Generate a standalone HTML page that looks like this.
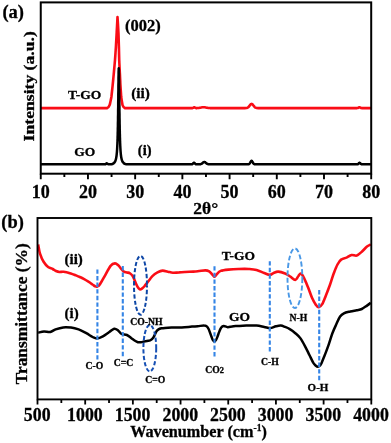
<!DOCTYPE html>
<html><head><meta charset="utf-8"><title>XRD and FTIR</title>
<style>
html,body{margin:0;padding:0;background:#fff;}
svg{display:block;}
text{font-family:"Liberation Serif","Times New Roman",serif;font-weight:bold;fill:#000;stroke:#000;stroke-width:0.3px;}
</style></head><body>
<svg width="391" height="443" viewBox="0 0 391 443">
<defs><filter id="soft" x="0" y="0" width="391" height="443" filterUnits="userSpaceOnUse"><feGaussianBlur stdDeviation="0.45"/></filter></defs>
<rect x="0" y="0" width="391" height="443" fill="#fff"/>
<g filter="url(#soft)">

<g id="panel-a">
<path d="M40.8,108.1 L41.2,108.1 L41.8,108.1 L42.2,108.1 L42.8,108.1 L43.2,108.1 L43.8,108.1 L44.2,108.1 L44.8,108.1 L45.2,108.1 L45.8,108.1 L46.2,108.1 L46.8,108.1 L47.2,108.1 L47.8,108.1 L48.2,108.1 L48.8,108.1 L49.2,108.1 L49.8,108.1 L50.2,108.1 L50.8,108.1 L51.2,108.1 L51.8,108.1 L52.2,108.1 L52.8,108.1 L53.2,108.1 L53.8,108.1 L54.2,108.1 L54.8,108.1 L55.2,108.1 L55.8,108.1 L56.2,108.1 L56.8,108.1 L57.2,108.1 L57.8,108.1 L58.2,108.1 L58.8,108.1 L59.2,108.1 L59.8,108.1 L60.2,108.1 L60.8,108.1 L61.2,108.1 L61.8,108.1 L62.2,108.1 L62.8,108.1 L63.2,108.1 L63.8,108.1 L64.2,108.1 L64.8,108.1 L65.2,108.1 L65.8,108.1 L66.2,108.1 L66.8,108.1 L67.2,108.1 L67.8,108.1 L68.2,108.1 L68.8,108.1 L69.2,108.1 L69.8,108.1 L70.2,108.1 L70.8,108.1 L71.2,108.1 L71.8,108.1 L72.2,108.1 L72.8,108.1 L73.2,108.1 L73.8,108.1 L74.2,108.1 L74.8,108.1 L75.2,108.1 L75.8,108.1 L76.2,108.1 L76.8,108.1 L77.2,108.1 L77.8,108.1 L78.2,108.1 L78.8,108.1 L79.2,108.1 L79.8,108.1 L80.2,108.1 L80.8,108.1 L81.2,108.1 L81.8,108.1 L82.2,108.1 L82.8,108.1 L83.2,108.1 L83.8,108.1 L84.2,108.1 L84.8,108.1 L85.2,108.1 L85.8,108.1 L86.2,108.1 L86.8,108.1 L87.2,108.1 L87.8,108.1 L88.2,108.1 L88.8,108.1 L89.2,108.1 L89.8,108.1 L90.2,108.1 L90.8,108.1 L91.2,108.1 L91.8,108.1 L92.2,108.1 L92.8,108.1 L93.2,108.1 L93.8,108.1 L94.2,108.1 L94.8,108.1 L95.2,108.1 L95.8,108.1 L96.2,108.1 L96.8,108.1 L97.2,108.1 L97.8,108.1 L98.2,108.1 L98.8,108.1 L99.2,108.1 L99.8,108.1 L100.2,108.1 L100.8,108.1 L101.2,108.1 L101.8,108.1 L102.2,108.1 L102.8,108.1 L103.2,108.1 L103.8,108.1 L104.2,108.1 L104.8,108.1 L105.2,108.1 L105.8,108.1 L106.2,108.1 L107.0,108.1 L108.6,107.0 L109.8,104.6 L110.6,101.0 L111.4,97.0 L112.7,84.8 L113.9,72.4 L115.0,60.0 L115.9,47.0 L116.6,34.0 L117.1,25.0 L117.5,17.0 L118.0,25.0 L118.5,34.0 L118.9,47.0 L119.2,60.0 L119.8,72.4 L120.4,84.8 L121.2,97.0 L121.9,101.5 L122.5,105.0 L123.5,107.0 L125.0,108.1 L125.5,108.1 L126.0,108.1 L126.5,108.1 L127.0,108.1 L127.5,108.1 L128.0,108.1 L128.5,108.1 L129.0,108.1 L129.5,108.1 L130.0,108.1 L130.5,108.1 L131.0,108.1 L131.5,108.1 L132.0,108.1 L132.5,108.1 L133.0,108.1 L133.5,108.1 L134.0,108.1 L134.5,108.1 L135.0,108.1 L135.5,108.1 L136.0,108.1 L136.5,108.1 L137.0,108.1 L137.5,108.1 L138.0,108.1 L138.5,108.1 L139.0,108.1 L139.5,108.1 L140.0,108.1 L140.5,108.1 L141.0,108.1 L141.5,108.1 L142.0,108.1 L142.5,108.1 L143.0,108.1 L143.5,108.1 L144.0,108.1 L144.5,108.1 L145.0,108.1 L145.5,108.1 L146.0,108.1 L146.5,108.1 L147.0,108.1 L147.5,108.1 L148.0,108.1 L148.5,108.1 L149.0,108.1 L149.5,108.1 L150.0,108.1 L150.5,108.1 L151.0,108.1 L151.5,108.1 L152.0,108.1 L152.5,108.1 L153.0,108.1 L153.5,108.1 L154.0,108.1 L154.5,108.1 L155.0,108.1 L155.5,108.1 L156.0,108.1 L156.5,108.1 L157.0,108.1 L157.5,108.1 L158.0,108.1 L158.5,108.1 L159.0,108.1 L159.5,108.1 L160.0,108.1 L160.5,108.1 L161.0,108.1 L161.5,108.1 L162.0,108.1 L162.5,108.1 L163.0,108.1 L163.5,108.1 L164.0,108.1 L164.5,108.1 L165.0,108.1 L165.5,108.1 L166.0,108.1 L166.5,108.1 L167.0,108.1 L167.5,108.1 L168.0,108.1 L168.5,108.1 L169.0,108.1 L169.5,108.1 L170.0,108.1 L170.5,108.1 L171.0,108.1 L171.5,108.1 L172.0,108.1 L172.5,108.1 L173.0,108.1 L173.5,108.1 L174.0,108.1 L174.5,108.1 L175.0,108.1 L175.5,108.1 L176.0,108.1 L176.5,108.1 L177.0,108.1 L177.5,108.1 L178.0,108.1 L178.5,108.1 L179.0,108.1 L179.5,108.1 L180.0,108.1 L180.5,108.1 L181.0,108.1 L181.5,108.1 L182.0,108.1 L182.5,108.1 L183.0,108.1 L183.5,108.1 L184.0,108.1 L184.5,108.1 L185.0,108.1 L185.5,108.1 L186.0,108.1 L186.5,108.1 L187.0,108.1 L187.5,108.1 L188.0,108.1 L188.5,108.1 L189.0,108.1 L189.5,108.1 L190.0,108.1 L190.5,108.1 L191.0,108.1 L191.5,108.1 L192.0,108.1 L192.5,108.1 L193.0,107.9 L193.5,107.6 L194.0,107.2 L194.5,107.3 L195.0,107.6 L195.5,107.9 L196.0,108.1 L196.5,108.1 L197.0,108.1 L197.5,108.0 L198.0,108.0 L198.5,108.0 L199.0,107.9 L199.5,107.8 L200.0,107.8 L200.5,107.7 L201.0,107.6 L201.5,107.4 L202.0,107.3 L202.5,107.3 L203.0,107.2 L203.5,107.2 L204.0,107.2 L204.5,107.3 L205.0,107.3 L205.5,107.4 L206.0,107.6 L206.5,107.7 L207.0,107.8 L207.5,107.8 L208.0,107.9 L208.5,108.0 L209.0,108.0 L209.5,108.0 L210.0,108.1 L210.5,108.1 L211.0,108.1 L211.5,108.1 L212.0,108.1 L212.5,108.1 L213.0,108.1 L213.5,108.1 L214.0,108.1 L214.5,108.1 L215.0,108.1 L215.5,108.1 L216.0,108.1 L216.5,108.1 L217.0,108.1 L217.5,108.1 L218.0,108.1 L218.5,108.1 L219.0,108.1 L219.5,108.1 L220.0,108.1 L220.5,108.1 L221.0,108.1 L221.5,108.1 L222.0,108.1 L222.5,108.1 L223.0,108.1 L223.5,108.1 L224.0,108.1 L224.5,108.1 L225.0,108.1 L225.5,108.1 L226.0,108.1 L226.5,108.1 L227.0,108.1 L227.5,108.1 L228.0,108.1 L228.5,108.1 L229.0,108.1 L229.5,108.1 L230.0,108.1 L230.5,108.1 L231.0,108.1 L231.5,108.1 L232.0,108.1 L232.5,108.1 L233.0,108.1 L233.5,108.1 L234.0,108.1 L234.5,108.1 L235.0,108.1 L235.5,108.1 L236.0,108.1 L236.5,108.1 L237.0,108.1 L237.5,108.1 L238.0,108.1 L238.5,108.1 L239.0,108.1 L239.5,108.1 L240.0,108.1 L240.5,108.1 L241.0,108.1 L241.5,108.1 L242.0,108.1 L242.5,108.1 L243.0,108.1 L243.5,108.1 L244.0,108.1 L244.5,108.1 L245.0,108.1 L245.5,108.1 L246.0,108.0 L246.5,108.0 L247.0,107.9 L247.5,107.7 L248.0,107.4 L248.5,107.0 L249.0,106.5 L249.5,105.8 L250.0,105.2 L250.5,104.5 L251.0,104.1 L251.5,103.9 L252.0,104.0 L252.5,104.3 L253.0,104.9 L253.5,105.6 L254.0,106.2 L254.5,106.8 L255.0,107.3 L255.5,107.6 L256.0,107.8 L256.5,107.9 L257.0,108.0 L257.5,108.1 L258.0,108.1 L258.5,108.1 L259.0,108.1 L259.5,108.1 L260.0,108.1 L260.5,108.1 L261.0,108.1 L261.5,108.1 L262.0,108.1 L262.5,108.1 L263.0,108.1 L263.5,108.1 L264.0,108.1 L264.5,108.1 L265.0,108.1 L265.5,108.1 L266.0,108.1 L266.5,108.1 L267.0,108.1 L267.5,108.1 L268.0,108.1 L268.5,108.1 L269.0,108.1 L269.5,108.1 L270.0,108.1 L270.5,108.1 L271.0,108.1 L271.5,108.1 L272.0,108.1 L272.5,108.1 L273.0,108.1 L273.5,108.1 L274.0,108.1 L274.5,108.1 L275.0,108.1 L275.5,108.1 L276.0,108.1 L276.5,108.1 L277.0,108.1 L277.5,108.1 L278.0,108.1 L278.5,108.1 L279.0,108.1 L279.5,108.1 L280.0,108.1 L280.5,108.1 L281.0,108.1 L281.5,108.1 L282.0,108.1 L282.5,108.1 L283.0,108.1 L283.5,108.1 L284.0,108.1 L284.5,108.1 L285.0,108.1 L285.5,108.1 L286.0,108.1 L286.5,108.1 L287.0,108.1 L287.5,108.1 L288.0,108.1 L288.5,108.1 L289.0,108.1 L289.5,108.1 L290.0,108.1 L290.5,108.1 L291.0,108.1 L291.5,108.1 L292.0,108.1 L292.5,108.1 L293.0,108.1 L293.5,108.1 L294.0,108.1 L294.5,108.1 L295.0,108.1 L295.5,108.1 L296.0,108.1 L296.5,108.1 L297.0,108.1 L297.5,108.1 L298.0,108.1 L298.5,108.1 L299.0,108.1 L299.5,108.1 L300.0,108.1 L300.5,108.1 L301.0,108.1 L301.5,108.1 L302.0,108.1 L302.5,108.1 L303.0,108.1 L303.5,108.1 L304.0,108.1 L304.5,108.1 L305.0,108.1 L305.5,108.1 L306.0,108.1 L306.5,108.1 L307.0,108.1 L307.5,108.1 L308.0,108.1 L308.5,108.1 L309.0,108.1 L309.5,108.1 L310.0,108.1 L310.5,108.1 L311.0,108.1 L311.5,108.1 L312.0,108.1 L312.5,108.1 L313.0,108.1 L313.5,108.1 L314.0,108.1 L314.5,108.1 L315.0,108.1 L315.5,108.1 L316.0,108.1 L316.5,108.1 L317.0,108.1 L317.5,108.1 L318.0,108.1 L318.5,108.1 L319.0,108.1 L319.5,108.1 L320.0,108.1 L320.5,108.1 L321.0,108.1 L321.5,108.1 L322.0,108.1 L322.5,108.1 L323.0,108.1 L323.5,108.1 L324.0,108.1 L324.5,108.1 L325.0,108.1 L325.5,108.1 L326.0,108.1 L326.5,108.1 L327.0,108.1 L327.5,108.1 L328.0,108.1 L328.5,108.1 L329.0,108.1 L329.5,108.1 L330.0,108.1 L330.5,108.1 L331.0,108.1 L331.5,108.1 L332.0,108.1 L332.5,108.1 L333.0,108.1 L333.5,108.1 L334.0,108.1 L334.5,108.1 L335.0,108.1 L335.5,108.1 L336.0,108.1 L336.5,108.1 L337.0,108.1 L337.5,108.1 L338.0,108.1 L338.5,108.1 L339.0,108.1 L339.5,108.1 L340.0,108.1 L340.5,108.1 L341.0,108.1 L341.5,108.1 L342.0,108.1 L342.5,108.1 L343.0,108.1 L343.5,108.1 L344.0,108.1 L344.5,108.1 L345.0,108.1 L345.5,108.1 L346.0,108.1 L346.5,108.1 L347.0,108.1 L347.5,108.1 L348.0,108.1 L348.5,108.1 L349.0,108.1 L349.5,108.1 L350.0,108.1 L350.5,108.1 L351.0,108.1 L351.5,108.1 L352.0,108.1 L352.5,108.1 L353.0,108.1 L353.5,108.1 L354.0,108.1 L354.5,108.1 L355.0,108.1 L355.5,108.1 L356.0,108.1 L356.5,108.1 L357.0,108.1 L357.5,108.0 L358.0,107.9 L358.5,107.6 L359.0,107.3 L359.5,107.2 L360.0,107.4 L360.5,107.8 L361.0,108.0 L361.5,108.1 L362.0,108.1 L362.5,108.1 L363.0,108.1 L363.5,108.1 L364.0,108.1 L364.5,108.1 L365.0,108.1 L365.5,108.1 L366.0,108.1 L366.5,108.1 L367.0,108.1 L367.5,108.1 L368.0,108.1 L368.5,108.1 L369.0,108.1 L369.5,108.1 L370.0,108.1 L370.5,108.1 L371.0,108.1" fill="none" stroke="#fa0c16" stroke-width="2.6" stroke-linejoin="round"/>
<path d="M40.8,164.3 L41.0,164.3 L41.2,164.3 L41.5,164.3 L41.8,164.3 L42.0,164.3 L42.2,164.3 L42.5,164.3 L42.8,164.3 L43.0,164.3 L43.2,164.3 L43.5,164.3 L43.8,164.3 L44.0,164.3 L44.2,164.3 L44.5,164.3 L44.8,164.3 L45.0,164.3 L45.2,164.3 L45.5,164.3 L45.8,164.3 L46.0,164.3 L46.2,164.3 L46.5,164.3 L46.8,164.3 L47.0,164.3 L47.2,164.3 L47.5,164.3 L47.8,164.3 L48.0,164.3 L48.2,164.3 L48.5,164.3 L48.8,164.3 L49.0,164.3 L49.2,164.3 L49.5,164.3 L49.8,164.3 L50.0,164.3 L50.2,164.3 L50.5,164.3 L50.8,164.3 L51.0,164.3 L51.2,164.3 L51.5,164.3 L51.8,164.3 L52.0,164.3 L52.2,164.3 L52.5,164.3 L52.8,164.3 L53.0,164.3 L53.2,164.3 L53.5,164.3 L53.8,164.3 L54.0,164.3 L54.2,164.3 L54.5,164.3 L54.8,164.3 L55.0,164.3 L55.2,164.3 L55.5,164.3 L55.8,164.3 L56.0,164.3 L56.2,164.3 L56.5,164.3 L56.8,164.3 L57.0,164.3 L57.2,164.3 L57.5,164.3 L57.8,164.3 L58.0,164.3 L58.2,164.3 L58.5,164.3 L58.8,164.3 L59.0,164.3 L59.2,164.3 L59.5,164.3 L59.8,164.3 L60.0,164.3 L60.2,164.3 L60.5,164.3 L60.8,164.3 L61.0,164.3 L61.2,164.3 L61.5,164.3 L61.8,164.3 L62.0,164.3 L62.2,164.3 L62.5,164.3 L62.8,164.3 L63.0,164.3 L63.2,164.3 L63.5,164.3 L63.8,164.3 L64.0,164.3 L64.2,164.3 L64.5,164.3 L64.8,164.3 L65.0,164.3 L65.2,164.3 L65.5,164.3 L65.8,164.3 L66.0,164.3 L66.2,164.3 L66.5,164.3 L66.8,164.3 L67.0,164.3 L67.2,164.3 L67.5,164.3 L67.8,164.3 L68.0,164.3 L68.2,164.3 L68.5,164.3 L68.8,164.3 L69.0,164.3 L69.2,164.3 L69.5,164.3 L69.8,164.3 L70.0,164.3 L70.2,164.3 L70.5,164.3 L70.8,164.3 L71.0,164.3 L71.2,164.3 L71.5,164.3 L71.8,164.3 L72.0,164.3 L72.2,164.3 L72.5,164.3 L72.8,164.3 L73.0,164.3 L73.2,164.3 L73.5,164.3 L73.8,164.3 L74.0,164.3 L74.2,164.3 L74.5,164.3 L74.8,164.3 L75.0,164.3 L75.2,164.3 L75.5,164.3 L75.8,164.3 L76.0,164.3 L76.2,164.3 L76.5,164.3 L76.8,164.3 L77.0,164.3 L77.2,164.3 L77.5,164.3 L77.8,164.3 L78.0,164.3 L78.2,164.3 L78.5,164.3 L78.8,164.3 L79.0,164.3 L79.2,164.3 L79.5,164.3 L79.8,164.3 L80.0,164.3 L80.2,164.3 L80.5,164.3 L80.8,164.3 L81.0,164.3 L81.2,164.3 L81.5,164.3 L81.8,164.3 L82.0,164.3 L82.2,164.3 L82.5,164.3 L82.8,164.3 L83.0,164.3 L83.2,164.3 L83.5,164.3 L83.8,164.3 L84.0,164.3 L84.2,164.3 L84.5,164.3 L84.8,164.3 L85.0,164.3 L85.2,164.3 L85.5,164.3 L85.8,164.3 L86.0,164.3 L86.2,164.3 L86.5,164.3 L86.8,164.3 L87.0,164.3 L87.2,164.3 L87.5,164.3 L87.8,164.3 L88.0,164.3 L88.2,164.3 L88.5,164.3 L88.8,164.3 L89.0,164.3 L89.2,164.3 L89.5,164.3 L89.8,164.3 L90.0,164.3 L90.2,164.3 L90.5,164.3 L90.8,164.3 L91.0,164.3 L91.2,164.3 L91.5,164.3 L91.8,164.3 L92.0,164.3 L92.2,164.3 L92.5,164.3 L92.8,164.3 L93.0,164.3 L93.2,164.3 L93.5,164.3 L93.8,164.3 L94.0,164.3 L94.2,164.3 L94.5,164.3 L94.8,164.3 L95.0,164.3 L95.2,164.3 L95.5,164.3 L95.8,164.3 L96.0,164.3 L96.2,164.3 L96.5,164.3 L96.8,164.3 L97.0,164.3 L97.2,164.3 L97.5,164.3 L97.8,164.3 L98.0,164.3 L98.2,164.3 L98.5,164.3 L98.8,164.3 L99.0,164.3 L99.2,164.3 L99.5,164.3 L99.8,164.3 L100.0,164.3 L100.2,164.3 L100.5,164.3 L100.8,164.3 L101.0,164.3 L101.2,164.3 L101.5,164.3 L101.8,164.3 L102.0,164.3 L102.2,164.3 L102.5,164.3 L102.8,164.3 L103.0,164.3 L103.2,164.3 L103.5,164.3 L103.8,164.3 L104.0,164.3 L104.2,164.3 L104.5,164.3 L104.8,164.3 L105.0,164.3 L105.2,164.3 L105.5,164.2 L105.8,164.1 L106.0,163.9 L106.2,163.6 L106.5,163.4 L106.8,163.3 L107.0,163.4 L107.2,163.5 L107.5,163.8 L107.8,164.0 L108.0,164.2 L108.2,164.2 L108.5,164.3 L108.8,164.3 L109.0,164.3 L109.2,164.3 L109.5,164.3 L109.8,164.3 L110.0,164.3 L110.2,164.3 L110.5,164.3 L110.8,164.3 L111.0,164.3 L111.2,164.3 L111.4,164.3 L111.5,164.3 L111.5,164.3 L111.5,164.3 L111.6,164.2 L111.6,164.2 L111.7,164.2 L111.7,164.2 L111.8,164.2 L111.8,164.2 L111.9,164.2 L111.9,164.1 L112.0,164.1 L112.0,164.1 L112.1,164.1 L112.1,164.1 L112.2,164.1 L112.2,164.0 L112.3,164.0 L112.3,164.0 L112.4,164.0 L112.4,164.0 L112.5,163.9 L112.5,163.9 L112.6,163.9 L112.6,163.9 L112.7,163.9 L112.7,163.8 L112.8,163.8 L112.8,163.8 L112.9,163.8 L112.9,163.7 L113.0,163.7 L113.0,163.7 L113.1,163.7 L113.1,163.6 L113.2,163.6 L113.2,163.6 L113.3,163.5 L113.3,163.5 L113.4,163.5 L113.4,163.4 L113.5,163.4 L113.5,163.4 L113.6,163.3 L113.6,163.3 L113.7,163.3 L113.7,163.2 L113.8,163.2 L113.8,163.1 L113.9,163.1 L113.9,163.1 L114.0,163.0 L114.0,163.0 L114.1,162.9 L114.1,162.9 L114.2,162.8 L114.2,162.8 L114.3,162.7 L114.3,162.6 L114.4,162.6 L114.4,162.5 L114.5,162.5 L114.5,162.4 L114.6,162.3 L114.6,162.3 L114.7,162.2 L114.7,162.1 L114.8,162.0 L114.8,162.0 L114.9,161.9 L114.9,161.8 L115.0,161.7 L115.0,161.6 L115.1,161.5 L115.1,161.4 L115.2,161.3 L115.2,161.2 L115.3,161.1 L115.3,161.0 L115.4,160.9 L115.4,160.7 L115.5,160.6 L115.5,160.5 L115.6,160.3 L115.6,160.2 L115.7,160.0 L115.7,159.9 L115.8,159.7 L115.8,159.5 L115.9,159.3 L115.9,159.1 L116.0,158.9 L116.0,158.7 L116.1,158.5 L116.1,158.2 L116.2,158.0 L116.2,157.7 L116.3,157.4 L116.3,157.1 L116.4,156.8 L116.4,156.5 L116.5,156.2 L116.5,155.8 L116.6,155.4 L116.6,155.0 L116.7,154.5 L116.7,154.1 L116.8,153.6 L116.8,153.0 L116.9,152.5 L116.9,151.9 L117.0,151.2 L117.0,150.5 L117.1,149.8 L117.1,149.0 L117.2,148.2 L117.2,147.2 L117.3,146.3 L117.3,145.2 L117.4,144.1 L117.4,142.8 L117.5,141.5 L117.5,140.1 L117.6,138.5 L117.6,136.8 L117.7,135.0 L117.7,133.1 L117.8,130.9 L117.8,128.6 L117.9,126.1 L117.9,123.4 L118.0,120.5 L118.0,117.4 L118.1,114.0 L118.1,110.5 L118.2,106.7 L118.2,102.7 L118.3,98.6 L118.3,94.4 L118.4,90.1 L118.4,85.9 L118.5,81.9 L118.5,78.1 L118.6,74.8 L118.6,72.0 L118.7,69.9 L118.7,68.6 L118.8,68.2 L118.8,68.6 L118.9,69.9 L118.9,72.0 L119.0,74.8 L119.0,78.1 L119.1,81.9 L119.1,85.9 L119.2,90.1 L119.2,94.4 L119.3,98.6 L119.3,102.7 L119.4,106.7 L119.4,110.5 L119.5,114.0 L119.5,117.4 L119.6,120.5 L119.6,123.4 L119.7,126.1 L119.7,128.6 L119.8,130.9 L119.8,133.1 L119.9,135.0 L119.9,136.8 L120.0,138.5 L120.0,140.1 L120.1,141.5 L120.1,142.8 L120.2,144.1 L120.2,145.2 L120.3,146.3 L120.3,147.2 L120.4,148.2 L120.4,149.0 L120.5,149.8 L120.5,150.5 L120.6,151.2 L120.6,151.9 L120.7,152.5 L120.7,153.0 L120.8,153.6 L120.8,154.1 L120.9,154.5 L120.9,155.0 L121.0,155.4 L121.0,155.8 L121.1,156.2 L121.1,156.5 L121.2,156.8 L121.2,157.1 L121.3,157.4 L121.3,157.7 L121.4,158.0 L121.4,158.2 L121.5,158.5 L121.5,158.7 L121.6,158.9 L121.6,159.1 L121.7,159.3 L121.7,159.5 L121.8,159.7 L121.8,159.9 L121.9,160.0 L121.9,160.2 L122.0,160.3 L122.0,160.5 L122.1,160.6 L122.1,160.7 L122.2,160.9 L122.2,161.0 L122.3,161.1 L122.3,161.2 L122.4,161.3 L122.4,161.4 L122.5,161.5 L122.5,161.6 L122.6,161.7 L122.6,161.8 L122.7,161.9 L122.7,162.0 L122.8,162.0 L122.8,162.1 L122.9,162.2 L122.9,162.3 L123.0,162.3 L123.0,162.4 L123.1,162.5 L123.1,162.5 L123.2,162.6 L123.2,162.6 L123.3,162.7 L123.3,162.8 L123.4,162.8 L123.4,162.9 L123.5,162.9 L123.5,163.0 L123.6,163.0 L123.6,163.1 L123.7,163.1 L123.7,163.1 L123.8,163.2 L123.8,163.2 L123.9,163.3 L123.9,163.3 L124.0,163.3 L124.0,163.4 L124.1,163.4 L124.1,163.4 L124.2,163.5 L124.2,163.5 L124.3,163.5 L124.3,163.6 L124.4,163.6 L124.4,163.6 L124.5,163.7 L124.5,163.7 L124.6,163.7 L124.6,163.7 L124.7,163.8 L124.7,163.8 L124.8,163.8 L124.8,163.8 L124.9,163.9 L124.9,163.9 L125.0,163.9 L125.0,163.9 L125.1,163.9 L125.1,164.0 L125.2,164.0 L125.2,164.0 L125.3,164.0 L125.3,164.0 L125.4,164.1 L125.4,164.1 L125.5,164.1 L125.5,164.1 L125.6,164.1 L125.6,164.1 L125.7,164.2 L125.7,164.2 L125.8,164.2 L125.8,164.2 L125.9,164.2 L125.9,164.2 L126.0,164.2 L126.0,164.3 L126.1,164.3 L126.1,164.3 L126.2,164.3 L126.2,164.3 L126.5,164.3 L126.8,164.3 L127.0,164.3 L127.2,164.3 L127.5,164.3 L127.8,164.3 L128.0,164.3 L128.2,164.3 L128.5,164.3 L128.8,164.3 L129.0,164.3 L129.2,164.3 L129.5,164.3 L129.8,164.3 L130.0,164.3 L130.2,164.3 L130.5,164.3 L130.8,164.3 L131.0,164.3 L131.2,164.3 L131.5,164.3 L131.8,164.3 L132.0,164.3 L132.2,164.3 L132.5,164.3 L132.8,164.3 L133.0,164.3 L133.2,164.3 L133.5,164.3 L133.8,164.3 L134.0,164.3 L134.2,164.3 L134.5,164.3 L134.8,164.3 L135.0,164.3 L135.2,164.3 L135.5,164.3 L135.8,164.3 L136.0,164.3 L136.2,164.3 L136.5,164.3 L136.8,164.3 L137.0,164.3 L137.2,164.3 L137.5,164.3 L137.8,164.3 L138.0,164.3 L138.2,164.3 L138.5,164.3 L138.8,164.3 L139.0,164.3 L139.2,164.3 L139.5,164.3 L139.8,164.3 L140.0,164.3 L140.2,164.3 L140.5,164.3 L140.8,164.3 L141.0,164.3 L141.2,164.3 L141.5,164.3 L141.8,164.3 L142.0,164.3 L142.2,164.3 L142.5,164.3 L142.8,164.3 L143.0,164.3 L143.2,164.3 L143.5,164.3 L143.8,164.3 L144.0,164.3 L144.2,164.3 L144.5,164.3 L144.8,164.3 L145.0,164.3 L145.2,164.3 L145.5,164.3 L145.8,164.3 L146.0,164.3 L146.2,164.3 L146.5,164.3 L146.8,164.3 L147.0,164.3 L147.2,164.3 L147.5,164.3 L147.8,164.3 L148.0,164.3 L148.2,164.3 L148.5,164.3 L148.8,164.3 L149.0,164.3 L149.2,164.3 L149.5,164.3 L149.8,164.3 L150.0,164.3 L150.2,164.3 L150.5,164.3 L150.8,164.3 L151.0,164.3 L151.2,164.3 L151.5,164.3 L151.8,164.3 L152.0,164.3 L152.2,164.3 L152.5,164.3 L152.8,164.3 L153.0,164.3 L153.2,164.3 L153.5,164.3 L153.8,164.3 L154.0,164.3 L154.2,164.3 L154.5,164.3 L154.8,164.3 L155.0,164.3 L155.2,164.3 L155.5,164.3 L155.8,164.3 L156.0,164.3 L156.2,164.3 L156.5,164.3 L156.8,164.3 L157.0,164.3 L157.2,164.3 L157.5,164.3 L157.8,164.3 L158.0,164.3 L158.2,164.3 L158.5,164.3 L158.8,164.3 L159.0,164.3 L159.2,164.3 L159.5,164.3 L159.8,164.3 L160.0,164.3 L160.2,164.3 L160.5,164.3 L160.8,164.3 L161.0,164.3 L161.2,164.3 L161.5,164.3 L161.8,164.3 L162.0,164.3 L162.2,164.3 L162.5,164.3 L162.8,164.3 L163.0,164.3 L163.2,164.3 L163.5,164.3 L163.8,164.3 L164.0,164.3 L164.2,164.3 L164.5,164.3 L164.8,164.3 L165.0,164.3 L165.2,164.3 L165.5,164.3 L165.8,164.3 L166.0,164.3 L166.2,164.3 L166.5,164.3 L166.8,164.3 L167.0,164.3 L167.2,164.3 L167.5,164.3 L167.8,164.3 L168.0,164.3 L168.2,164.3 L168.5,164.3 L168.8,164.3 L169.0,164.3 L169.2,164.3 L169.5,164.3 L169.8,164.3 L170.0,164.3 L170.2,164.3 L170.5,164.3 L170.8,164.3 L171.0,164.3 L171.2,164.3 L171.5,164.3 L171.8,164.3 L172.0,164.3 L172.2,164.3 L172.5,164.3 L172.8,164.3 L173.0,164.3 L173.2,164.3 L173.5,164.3 L173.8,164.3 L174.0,164.3 L174.2,164.3 L174.5,164.3 L174.8,164.3 L175.0,164.3 L175.2,164.3 L175.5,164.3 L175.8,164.3 L176.0,164.3 L176.2,164.3 L176.5,164.3 L176.8,164.3 L177.0,164.3 L177.2,164.3 L177.5,164.3 L177.8,164.3 L178.0,164.3 L178.2,164.3 L178.5,164.3 L178.8,164.3 L179.0,164.3 L179.2,164.3 L179.5,164.3 L179.8,164.3 L180.0,164.3 L180.2,164.3 L180.5,164.3 L180.8,164.3 L181.0,164.3 L181.2,164.3 L181.5,164.3 L181.8,164.3 L182.0,164.3 L182.2,164.3 L182.5,164.3 L182.8,164.3 L183.0,164.3 L183.2,164.3 L183.5,164.3 L183.8,164.3 L184.0,164.3 L184.2,164.3 L184.5,164.3 L184.8,164.3 L185.0,164.3 L185.2,164.3 L185.5,164.3 L185.8,164.3 L186.0,164.3 L186.2,164.3 L186.5,164.3 L186.8,164.3 L187.0,164.3 L187.2,164.3 L187.5,164.3 L187.8,164.3 L188.0,164.3 L188.2,164.3 L188.5,164.3 L188.8,164.3 L189.0,164.3 L189.2,164.3 L189.5,164.3 L189.8,164.3 L190.0,164.3 L190.2,164.3 L190.5,164.3 L190.8,164.3 L191.0,164.3 L191.2,164.3 L191.5,164.3 L191.8,164.3 L192.0,164.2 L192.2,164.2 L192.5,164.0 L192.8,163.8 L193.0,163.6 L193.2,163.3 L193.5,163.0 L193.8,162.8 L194.0,162.7 L194.2,162.8 L194.5,163.0 L194.8,163.3 L195.0,163.6 L195.2,163.8 L195.5,164.0 L195.8,164.2 L196.0,164.2 L196.2,164.3 L196.5,164.3 L196.8,164.3 L197.0,164.3 L197.2,164.3 L197.5,164.3 L197.8,164.3 L198.0,164.3 L198.2,164.3 L198.5,164.3 L198.8,164.3 L199.0,164.3 L199.2,164.3 L199.5,164.3 L199.8,164.3 L200.0,164.2 L200.2,164.2 L200.5,164.2 L200.8,164.1 L201.0,164.0 L201.2,163.9 L201.5,163.8 L201.8,163.7 L202.0,163.5 L202.2,163.3 L202.5,163.1 L202.8,162.9 L203.0,162.6 L203.2,162.4 L203.5,162.3 L203.8,162.1 L204.0,162.0 L204.2,162.0 L204.5,162.0 L204.8,162.1 L205.0,162.2 L205.2,162.4 L205.5,162.6 L205.8,162.8 L206.0,163.0 L206.2,163.2 L206.5,163.4 L206.8,163.6 L207.0,163.7 L207.2,163.9 L207.5,164.0 L207.8,164.1 L208.0,164.1 L208.2,164.2 L208.5,164.2 L208.8,164.3 L209.0,164.3 L209.2,164.3 L209.5,164.3 L209.8,164.3 L210.0,164.3 L210.2,164.3 L210.5,164.3 L210.8,164.3 L211.0,164.3 L211.2,164.3 L211.5,164.3 L211.8,164.3 L212.0,164.3 L212.2,164.3 L212.5,164.3 L212.8,164.3 L213.0,164.3 L213.2,164.3 L213.5,164.3 L213.8,164.3 L214.0,164.3 L214.2,164.3 L214.5,164.3 L214.8,164.3 L215.0,164.3 L215.2,164.3 L215.5,164.3 L215.8,164.3 L216.0,164.3 L216.2,164.3 L216.5,164.3 L216.8,164.3 L217.0,164.3 L217.2,164.3 L217.5,164.3 L217.8,164.3 L218.0,164.3 L218.2,164.3 L218.5,164.3 L218.8,164.3 L219.0,164.3 L219.2,164.3 L219.5,164.3 L219.8,164.3 L220.0,164.3 L220.2,164.3 L220.5,164.3 L220.8,164.3 L221.0,164.3 L221.2,164.3 L221.5,164.3 L221.8,164.3 L222.0,164.3 L222.2,164.3 L222.5,164.3 L222.8,164.3 L223.0,164.3 L223.2,164.3 L223.5,164.3 L223.8,164.3 L224.0,164.3 L224.2,164.3 L224.5,164.3 L224.8,164.3 L225.0,164.3 L225.2,164.3 L225.5,164.3 L225.8,164.3 L226.0,164.3 L226.2,164.3 L226.5,164.3 L226.8,164.3 L227.0,164.3 L227.2,164.3 L227.5,164.3 L227.8,164.3 L228.0,164.3 L228.2,164.3 L228.5,164.3 L228.8,164.3 L229.0,164.3 L229.2,164.3 L229.5,164.3 L229.8,164.3 L230.0,164.3 L230.2,164.3 L230.5,164.3 L230.8,164.3 L231.0,164.3 L231.2,164.3 L231.5,164.3 L231.8,164.3 L232.0,164.3 L232.2,164.3 L232.5,164.3 L232.8,164.3 L233.0,164.3 L233.2,164.3 L233.5,164.3 L233.8,164.3 L234.0,164.3 L234.2,164.3 L234.5,164.3 L234.8,164.3 L235.0,164.3 L235.2,164.3 L235.5,164.3 L235.8,164.3 L236.0,164.3 L236.2,164.3 L236.5,164.3 L236.8,164.3 L237.0,164.3 L237.2,164.3 L237.5,164.3 L237.8,164.3 L238.0,164.3 L238.2,164.3 L238.5,164.3 L238.8,164.3 L239.0,164.3 L239.2,164.3 L239.5,164.3 L239.8,164.3 L240.0,164.3 L240.2,164.3 L240.5,164.3 L240.8,164.3 L241.0,164.3 L241.2,164.3 L241.5,164.3 L241.8,164.3 L242.0,164.3 L242.2,164.3 L242.5,164.3 L242.8,164.3 L243.0,164.3 L243.2,164.3 L243.5,164.3 L243.8,164.3 L244.0,164.3 L244.2,164.3 L244.5,164.3 L244.8,164.3 L245.0,164.3 L245.2,164.3 L245.5,164.3 L245.8,164.3 L246.0,164.3 L246.2,164.3 L246.5,164.3 L246.8,164.3 L247.0,164.3 L247.2,164.3 L247.5,164.3 L247.8,164.3 L248.0,164.3 L248.2,164.3 L248.5,164.2 L248.8,164.2 L249.0,164.1 L249.2,163.9 L249.5,163.7 L249.8,163.4 L250.0,163.1 L250.2,162.7 L250.5,162.2 L250.8,161.7 L251.0,161.3 L251.2,161.0 L251.5,160.8 L251.8,160.8 L252.0,161.0 L252.2,161.4 L252.5,161.8 L252.8,162.3 L253.0,162.7 L253.2,163.2 L253.5,163.5 L253.8,163.8 L254.0,164.0 L254.2,164.1 L254.5,164.2 L254.8,164.2 L255.0,164.3 L255.2,164.3 L255.5,164.3 L255.8,164.3 L256.0,164.3 L256.2,164.3 L256.5,164.3 L256.8,164.3 L257.0,164.3 L257.2,164.3 L257.5,164.3 L257.8,164.3 L258.0,164.3 L258.2,164.3 L258.5,164.3 L258.8,164.3 L259.0,164.3 L259.2,164.3 L259.5,164.3 L259.8,164.3 L260.0,164.3 L260.2,164.3 L260.5,164.3 L260.8,164.3 L261.0,164.3 L261.2,164.3 L261.5,164.3 L261.8,164.3 L262.0,164.3 L262.2,164.3 L262.5,164.3 L262.8,164.3 L263.0,164.3 L263.2,164.3 L263.5,164.3 L263.8,164.3 L264.0,164.3 L264.2,164.3 L264.5,164.3 L264.8,164.3 L265.0,164.3 L265.2,164.3 L265.5,164.3 L265.8,164.3 L266.0,164.3 L266.2,164.3 L266.5,164.3 L266.8,164.3 L267.0,164.3 L267.2,164.3 L267.5,164.3 L267.8,164.3 L268.0,164.3 L268.2,164.3 L268.5,164.3 L268.8,164.3 L269.0,164.3 L269.2,164.3 L269.5,164.3 L269.8,164.3 L270.0,164.3 L270.2,164.3 L270.5,164.3 L270.8,164.3 L271.0,164.3 L271.2,164.3 L271.5,164.3 L271.8,164.3 L272.0,164.3 L272.2,164.3 L272.5,164.3 L272.8,164.3 L273.0,164.3 L273.2,164.3 L273.5,164.3 L273.8,164.3 L274.0,164.3 L274.2,164.3 L274.5,164.3 L274.8,164.3 L275.0,164.3 L275.2,164.3 L275.5,164.3 L275.8,164.3 L276.0,164.3 L276.2,164.3 L276.5,164.3 L276.8,164.3 L277.0,164.3 L277.2,164.3 L277.5,164.3 L277.8,164.3 L278.0,164.3 L278.2,164.3 L278.5,164.3 L278.8,164.3 L279.0,164.3 L279.2,164.3 L279.5,164.3 L279.8,164.3 L280.0,164.3 L280.2,164.3 L280.5,164.3 L280.8,164.3 L281.0,164.3 L281.2,164.3 L281.5,164.3 L281.8,164.3 L282.0,164.3 L282.2,164.3 L282.5,164.3 L282.8,164.3 L283.0,164.3 L283.2,164.3 L283.5,164.3 L283.8,164.3 L284.0,164.3 L284.2,164.3 L284.5,164.3 L284.8,164.3 L285.0,164.3 L285.2,164.3 L285.5,164.3 L285.8,164.3 L286.0,164.3 L286.2,164.3 L286.5,164.3 L286.8,164.3 L287.0,164.3 L287.2,164.3 L287.5,164.3 L287.8,164.3 L288.0,164.3 L288.2,164.3 L288.5,164.3 L288.8,164.3 L289.0,164.3 L289.2,164.3 L289.5,164.3 L289.8,164.3 L290.0,164.3 L290.2,164.3 L290.5,164.3 L290.8,164.3 L291.0,164.3 L291.2,164.3 L291.5,164.3 L291.8,164.3 L292.0,164.3 L292.2,164.3 L292.5,164.3 L292.8,164.3 L293.0,164.3 L293.2,164.3 L293.5,164.3 L293.8,164.3 L294.0,164.3 L294.2,164.3 L294.5,164.3 L294.8,164.3 L295.0,164.3 L295.2,164.3 L295.5,164.3 L295.8,164.3 L296.0,164.3 L296.2,164.3 L296.5,164.3 L296.8,164.3 L297.0,164.3 L297.2,164.3 L297.5,164.3 L297.8,164.3 L298.0,164.3 L298.2,164.3 L298.5,164.3 L298.8,164.3 L299.0,164.3 L299.2,164.3 L299.5,164.3 L299.8,164.3 L300.0,164.3 L300.2,164.3 L300.5,164.3 L300.8,164.3 L301.0,164.3 L301.2,164.3 L301.5,164.3 L301.8,164.3 L302.0,164.3 L302.2,164.3 L302.5,164.3 L302.8,164.3 L303.0,164.3 L303.2,164.3 L303.5,164.3 L303.8,164.3 L304.0,164.3 L304.2,164.3 L304.5,164.3 L304.8,164.3 L305.0,164.3 L305.2,164.3 L305.5,164.3 L305.8,164.3 L306.0,164.3 L306.2,164.3 L306.5,164.3 L306.8,164.3 L307.0,164.3 L307.2,164.3 L307.5,164.3 L307.8,164.3 L308.0,164.3 L308.2,164.3 L308.5,164.3 L308.8,164.3 L309.0,164.3 L309.2,164.3 L309.5,164.3 L309.8,164.3 L310.0,164.3 L310.2,164.3 L310.5,164.3 L310.8,164.3 L311.0,164.3 L311.2,164.3 L311.5,164.3 L311.8,164.3 L312.0,164.3 L312.2,164.3 L312.5,164.3 L312.8,164.3 L313.0,164.3 L313.2,164.3 L313.5,164.3 L313.8,164.3 L314.0,164.3 L314.2,164.3 L314.5,164.3 L314.8,164.3 L315.0,164.3 L315.2,164.3 L315.5,164.3 L315.8,164.3 L316.0,164.3 L316.2,164.3 L316.5,164.3 L316.8,164.3 L317.0,164.3 L317.2,164.3 L317.5,164.3 L317.8,164.3 L318.0,164.3 L318.2,164.3 L318.5,164.3 L318.8,164.3 L319.0,164.3 L319.2,164.3 L319.5,164.3 L319.8,164.3 L320.0,164.3 L320.2,164.3 L320.5,164.3 L320.8,164.3 L321.0,164.3 L321.2,164.3 L321.5,164.3 L321.8,164.3 L322.0,164.3 L322.2,164.3 L322.5,164.3 L322.8,164.3 L323.0,164.3 L323.2,164.3 L323.5,164.3 L323.8,164.3 L324.0,164.3 L324.2,164.3 L324.5,164.3 L324.8,164.3 L325.0,164.3 L325.2,164.3 L325.5,164.3 L325.8,164.3 L326.0,164.3 L326.2,164.3 L326.5,164.3 L326.8,164.3 L327.0,164.3 L327.2,164.3 L327.5,164.3 L327.8,164.3 L328.0,164.3 L328.2,164.3 L328.5,164.3 L328.8,164.3 L329.0,164.3 L329.2,164.3 L329.5,164.3 L329.8,164.3 L330.0,164.3 L330.2,164.3 L330.5,164.3 L330.8,164.3 L331.0,164.3 L331.2,164.3 L331.5,164.3 L331.8,164.3 L332.0,164.3 L332.2,164.3 L332.5,164.3 L332.8,164.3 L333.0,164.3 L333.2,164.3 L333.5,164.3 L333.8,164.3 L334.0,164.3 L334.2,164.3 L334.5,164.3 L334.8,164.3 L335.0,164.3 L335.2,164.3 L335.5,164.3 L335.8,164.3 L336.0,164.3 L336.2,164.3 L336.5,164.3 L336.8,164.3 L337.0,164.3 L337.2,164.3 L337.5,164.3 L337.8,164.3 L338.0,164.3 L338.2,164.3 L338.5,164.3 L338.8,164.3 L339.0,164.3 L339.2,164.3 L339.5,164.3 L339.8,164.3 L340.0,164.3 L340.2,164.3 L340.5,164.3 L340.8,164.3 L341.0,164.3 L341.2,164.3 L341.5,164.3 L341.8,164.3 L342.0,164.3 L342.2,164.3 L342.5,164.3 L342.8,164.3 L343.0,164.3 L343.2,164.3 L343.5,164.3 L343.8,164.3 L344.0,164.3 L344.2,164.3 L344.5,164.3 L344.8,164.3 L345.0,164.3 L345.2,164.3 L345.5,164.3 L345.8,164.3 L346.0,164.3 L346.2,164.3 L346.5,164.3 L346.8,164.3 L347.0,164.3 L347.2,164.3 L347.5,164.3 L347.8,164.3 L348.0,164.3 L348.2,164.3 L348.5,164.3 L348.8,164.3 L349.0,164.3 L349.2,164.3 L349.5,164.3 L349.8,164.3 L350.0,164.3 L350.2,164.3 L350.5,164.3 L350.8,164.3 L351.0,164.3 L351.2,164.3 L351.5,164.3 L351.8,164.3 L352.0,164.3 L352.2,164.3 L352.5,164.3 L352.8,164.3 L353.0,164.3 L353.2,164.3 L353.5,164.3 L353.8,164.3 L354.0,164.3 L354.2,164.3 L354.5,164.3 L354.8,164.3 L355.0,164.3 L355.2,164.3 L355.5,164.3 L355.8,164.3 L356.0,164.3 L356.2,164.3 L356.5,164.3 L356.8,164.3 L357.0,164.3 L357.2,164.3 L357.5,164.3 L357.8,164.2 L358.0,164.1 L358.2,163.9 L358.5,163.7 L358.8,163.4 L359.0,163.2 L359.2,162.9 L359.5,162.8 L359.8,162.8 L360.0,163.0 L360.2,163.2 L360.5,163.5 L360.8,163.8 L361.0,164.0 L361.2,164.1 L361.5,164.2 L361.8,164.3 L362.0,164.3 L362.2,164.3 L362.5,164.3 L362.8,164.3 L363.0,164.3 L363.2,164.3 L363.5,164.3 L363.8,164.3 L364.0,164.3 L364.2,164.3 L364.5,164.3 L364.8,164.3 L365.0,164.3 L365.2,164.3 L365.5,164.3 L365.8,164.3 L366.0,164.3 L366.2,164.3 L366.5,164.3 L366.8,164.3 L367.0,164.3 L367.2,164.3 L367.5,164.3 L367.8,164.3 L368.0,164.3 L368.2,164.3 L368.5,164.3 L368.8,164.3 L369.0,164.3 L369.2,164.3 L369.5,164.3 L369.8,164.3 L370.0,164.3 L370.2,164.3 L370.5,164.3 L370.8,164.3 L371.0,164.3" fill="none" stroke="#000" stroke-width="2.5" stroke-linejoin="round"/>
<rect x="40.75" y="2.40" width="330.45" height="171.30" fill="none" stroke="#000" stroke-width="2"/>
<path d="M40.75,173.70 v5.6 M64.35,173.70 v3.3 M87.96,173.70 v5.6 M111.56,173.70 v3.3 M135.16,173.70 v5.6 M158.77,173.70 v3.3 M182.37,173.70 v5.6 M205.97,173.70 v3.3 M229.58,173.70 v5.6 M253.18,173.70 v3.3 M276.79,173.70 v5.6 M300.39,173.70 v3.3 M323.99,173.70 v5.6 M347.60,173.70 v3.3 M371.20,173.70 v5.6" stroke="#000" stroke-width="1.9" fill="none"/>
<text x="40.8" y="197.6" font-size="18" text-anchor="middle">10</text>
<text x="88.0" y="197.6" font-size="18" text-anchor="middle">20</text>
<text x="135.2" y="197.6" font-size="18" text-anchor="middle">30</text>
<text x="182.4" y="197.6" font-size="18" text-anchor="middle">40</text>
<text x="229.6" y="197.6" font-size="18" text-anchor="middle">50</text>
<text x="276.8" y="197.6" font-size="18" text-anchor="middle">60</text>
<text x="324.0" y="197.6" font-size="18" text-anchor="middle">70</text>
<text x="371.2" y="197.6" font-size="18" text-anchor="middle">80</text>
<text x="193.3" y="214.3" font-size="17.5">2θ°</text>
<text x="2.4" y="17.9" font-size="18.5">(a)</text>
<text transform="translate(33.7,86.3) rotate(-90) scale(1.145,1)" font-size="15.4" text-anchor="middle">Intensity (a.u.)</text>
<text x="125" y="31.3" font-size="16.5">(002)</text>
<text x="131.2" y="97.8" font-size="15.3">(ii)</text>
<text x="68" y="99" font-size="13.5">T-GO</text>
<text x="74.3" y="156.4" font-size="13.5">GO</text>
<text x="137.8" y="155" font-size="14.5">(i)</text>
</g>
<g id="panel-b">
<path d="M38.2,244.6 C38.5,246.1 39.1,250.8 40.0,253.6 C40.9,256.4 42.2,259.5 43.6,261.7 C45.0,263.9 46.6,265.8 48.1,267.0 C49.6,268.2 51.4,268.3 52.7,269.0 C54.0,269.7 54.9,270.5 56.0,271.0 C57.1,271.5 58.2,271.9 59.5,272.0 C60.8,272.1 61.6,271.6 63.5,271.8 C65.4,272.0 68.6,272.8 70.7,273.4 C72.8,274.0 74.5,274.8 76.0,275.4 C77.5,276.0 78.5,276.4 79.8,277.0 C81.1,277.6 82.2,278.0 83.7,278.8 C85.2,279.6 87.3,280.9 88.8,281.9 C90.3,282.8 91.4,283.8 92.5,284.5 C93.6,285.2 94.4,285.9 95.2,286.3 C96.0,286.7 96.4,287.0 97.2,286.6 C98.0,286.2 98.6,286.2 100.0,284.2 C101.4,282.2 103.6,277.9 105.4,274.8 C107.2,271.7 109.0,267.7 110.6,265.8 C112.2,263.9 113.7,263.5 115.0,263.4 C116.3,263.3 117.2,264.4 118.2,265.2 C119.2,266.0 119.8,267.2 120.7,268.3 C121.6,269.4 122.8,270.9 123.8,271.6 C124.8,272.3 126.0,272.1 127.0,272.4 C128.0,272.7 128.9,272.5 129.9,273.2 C130.9,273.9 132.0,274.8 133.0,276.5 C134.0,278.2 135.1,281.7 136.0,283.6 C136.9,285.5 137.5,286.8 138.2,287.8 C138.9,288.8 139.4,289.3 140.1,289.4 C140.8,289.5 141.5,288.9 142.2,288.4 C142.9,287.9 143.3,287.5 144.2,286.5 C145.0,285.5 145.9,284.3 147.3,282.6 C148.7,280.9 150.7,277.9 152.4,276.2 C154.1,274.5 155.8,273.3 157.5,272.4 C159.2,271.5 161.0,270.7 162.7,270.6 C164.4,270.5 166.1,271.4 167.8,271.7 C169.5,272.0 171.0,272.6 172.9,272.7 C174.8,272.8 176.5,272.5 179.3,272.4 C182.1,272.2 186.4,272.0 189.5,271.8 C192.6,271.6 195.1,271.5 197.7,271.3 C200.3,271.1 203.4,270.4 205.3,270.4 C207.2,270.4 208.0,270.7 209.2,271.4 C210.4,272.1 211.6,273.9 212.5,274.8 C213.4,275.7 213.8,276.9 214.5,276.8 C215.2,276.7 215.9,275.0 216.9,274.0 C217.9,273.0 218.8,271.6 220.7,270.9 C222.6,270.2 225.4,269.9 228.4,269.6 C231.4,269.3 235.2,269.1 238.6,269.0 C242.0,268.9 245.8,268.8 248.8,269.0 C251.8,269.2 253.9,269.3 256.5,270.0 C259.1,270.7 262.0,272.2 264.2,273.0 C266.4,273.8 268.2,274.8 269.8,274.8 C271.4,274.8 272.2,273.5 273.6,273.0 C275.0,272.5 276.3,271.5 278.2,271.6 C280.1,271.7 283.1,272.7 285.1,273.5 C287.1,274.3 288.5,275.4 290.2,276.5 C291.9,277.6 293.9,280.0 295.3,279.9 C296.7,279.8 297.4,277.1 298.4,276.0 C299.3,274.9 300.0,273.1 301.0,273.5 C302.0,273.9 303.1,276.3 304.3,278.6 C305.5,280.9 306.8,284.3 308.1,287.5 C309.4,290.7 310.7,294.9 312.0,297.8 C313.3,300.7 314.7,303.1 315.8,304.7 C316.9,306.3 317.8,307.3 318.9,307.2 C320.0,307.1 321.0,306.2 322.2,304.2 C323.4,302.2 324.7,298.4 326.0,295.2 C327.3,292.0 328.6,288.6 329.9,285.0 C331.2,281.4 332.4,276.9 333.7,273.5 C335.0,270.1 336.2,266.9 337.5,264.5 C338.8,262.1 339.9,260.5 341.4,259.4 C342.9,258.2 344.8,258.3 346.5,257.6 C348.2,256.9 349.9,255.3 351.6,255.0 C353.3,254.7 355.0,256.1 356.7,255.6 C358.4,255.0 360.1,253.2 361.8,251.7 C363.5,250.2 365.5,247.8 367.0,246.6 C368.5,245.4 370.2,244.8 370.8,244.4" fill="none" stroke="#fa0c16" stroke-width="2.6" stroke-linejoin="round" stroke-linecap="butt"/>
<path d="M38.2,332.7 C39.2,332.5 42.0,331.6 44.0,331.5 C46.0,331.4 48.4,332.4 50.3,332.0 C52.2,331.6 53.5,330.2 55.6,329.4 C57.8,328.6 60.6,327.7 63.2,327.4 C65.8,327.1 68.4,327.3 71.0,327.6 C73.6,327.9 76.0,328.5 78.6,329.4 C81.1,330.3 83.9,331.9 86.3,333.2 C88.7,334.5 90.9,336.1 92.7,337.0 C94.5,337.9 95.3,338.5 97.0,338.4 C98.7,338.3 100.9,337.4 102.9,336.3 C105.0,335.2 107.4,333.2 109.3,332.0 C111.2,330.8 112.7,329.1 114.2,328.8 C115.7,328.5 116.8,329.5 118.1,330.4 C119.3,331.3 120.2,333.2 121.7,334.0 C123.2,334.8 125.2,334.3 126.9,335.0 C128.6,335.7 130.3,337.4 131.7,338.4 C133.0,339.4 134.0,340.2 135.0,340.8 C136.0,341.4 136.9,341.9 137.9,342.2 C138.9,342.4 140.0,342.4 141.0,342.3 C142.0,342.2 143.0,341.7 144.0,341.5 C145.0,341.3 146.0,341.1 147.0,340.9 C148.0,340.7 149.3,340.7 150.1,340.4 C150.9,340.1 151.4,339.8 152.0,339.2 C152.6,338.6 153.1,337.9 153.6,337.1 C154.1,336.3 154.5,335.2 155.0,334.2 C155.5,333.2 155.9,332.0 156.5,331.2 C157.1,330.4 157.7,329.9 158.5,329.4 C159.3,328.9 160.3,328.6 161.4,328.3 C162.5,328.1 163.3,328.0 165.0,327.9 C166.7,327.8 168.8,327.7 171.6,327.6 C174.4,327.5 178.4,327.6 181.8,327.4 C185.2,327.2 189.3,326.8 192.0,326.6 C194.7,326.4 195.7,326.5 197.7,326.3 C199.7,326.1 202.6,325.3 204.2,325.4 C205.8,325.4 206.3,326.0 207.0,326.6 C207.7,327.2 208.1,328.0 208.6,329.0 C209.1,330.0 209.5,331.3 210.0,332.6 C210.5,333.9 210.9,335.4 211.4,336.6 C211.9,337.8 212.3,339.1 212.8,340.0 C213.3,340.9 213.9,341.8 214.4,341.8 C214.9,341.8 215.5,340.9 216.0,340.0 C216.5,339.1 217.0,337.9 217.5,336.6 C218.0,335.3 218.5,333.7 219.0,332.4 C219.5,331.1 220.1,329.5 220.6,328.6 C221.1,327.7 221.5,327.2 222.0,326.8 C222.5,326.4 222.9,325.8 223.8,325.9 C224.8,326.0 226.3,327.1 227.7,327.2 C229.1,327.3 230.6,326.6 232.0,326.4 C233.4,326.2 233.6,326.2 236.0,326.1 C238.4,326.0 242.9,325.7 246.3,325.6 C249.7,325.5 253.5,325.4 256.5,325.6 C259.5,325.8 261.9,326.5 264.2,326.9 C266.5,327.3 268.2,328.2 270.2,328.1 C272.1,328.0 274.1,326.7 275.9,326.3 C277.7,325.9 279.3,325.5 280.8,325.6 C282.3,325.7 283.5,326.3 285.1,326.9 C286.7,327.5 288.5,328.3 290.2,329.4 C291.9,330.4 293.6,331.7 295.3,333.2 C297.0,334.7 298.8,336.0 300.5,338.4 C302.2,340.8 304.1,344.5 305.6,347.3 C307.1,350.1 308.1,352.4 309.4,355.0 C310.7,357.6 312.2,360.9 313.2,362.7 C314.2,364.4 314.8,364.8 315.6,365.5 C316.4,366.2 317.2,366.7 317.9,366.7 C318.6,366.7 319.4,366.2 320.0,365.6 C320.6,365.0 320.8,364.7 321.6,362.9 C322.4,361.1 323.6,358.0 324.8,355.0 C326.0,352.0 327.3,348.4 328.6,344.8 C329.9,341.2 331.1,336.6 332.4,333.2 C333.7,329.8 335.0,327.1 336.3,324.3 C337.6,321.5 338.8,318.4 340.1,316.6 C341.4,314.8 342.2,314.2 343.9,313.3 C345.6,312.4 348.2,312.0 350.3,311.5 C352.4,311.0 354.8,310.6 356.7,310.2 C358.6,309.8 360.1,309.8 361.8,309.0 C363.5,308.2 365.5,306.6 367.0,305.6 C368.5,304.6 370.2,303.3 370.8,302.8" fill="none" stroke="#000" stroke-width="2.5" stroke-linejoin="round" stroke-linecap="butt"/>
<path d="M97.4,269.4 V360.6" stroke="#3585e6" stroke-width="2.1" stroke-dasharray="4.4 2.2" fill="none"/>
<path d="M122.8,266.0 V357.6" stroke="#3585e6" stroke-width="2.1" stroke-dasharray="4.4 2.2" fill="none"/>
<path d="M214.5,266.2 V357.5" stroke="#3585e6" stroke-width="2.1" stroke-dasharray="4.4 2.2" fill="none"/>
<path d="M269.8,261.2 V352.4" stroke="#3585e6" stroke-width="2.1" stroke-dasharray="4.4 2.2" fill="none"/>
<path d="M319.2,290.0 V381.3" stroke="#3585e6" stroke-width="2.1" stroke-dasharray="4.4 2.2" fill="none"/>
<ellipse cx="140.5" cy="285.3" rx="6.5" ry="29.4" fill="none" stroke="#1046a6" stroke-width="2" stroke-dasharray="4.2 2.2" stroke-dashoffset="2"/>
<ellipse cx="149.8" cy="348.2" rx="6.4" ry="23.2" fill="none" stroke="#1650b4" stroke-width="2" stroke-dasharray="4.2 2.2"/>
<ellipse cx="294.9" cy="278.2" rx="7.4" ry="29.8" fill="none" stroke="#4a98e6" stroke-width="1.9" stroke-dasharray="5 2.4"/>
<rect x="37.50" y="218.00" width="333.80" height="181.40" fill="none" stroke="#000" stroke-width="1.9"/>
<path d="M37.50,399.40 v5.2 M61.34,399.40 v3.5 M85.19,399.40 v5.2 M109.03,399.40 v3.5 M132.87,399.40 v5.2 M156.71,399.40 v3.5 M180.56,399.40 v5.2 M204.40,399.40 v3.5 M228.24,399.40 v5.2 M252.09,399.40 v3.5 M275.93,399.40 v5.2 M299.77,399.40 v3.5 M323.61,399.40 v5.2 M347.46,399.40 v3.5 M371.30,399.40 v5.2" stroke="#000" stroke-width="1.8" fill="none"/>
<text x="37.2" y="421.1" font-size="17.8" text-anchor="middle">500</text>
<text x="84.9" y="421.1" font-size="17.8" text-anchor="middle">1000</text>
<text x="132.6" y="421.1" font-size="17.8" text-anchor="middle">1500</text>
<text x="180.3" y="421.1" font-size="17.8" text-anchor="middle">2000</text>
<text x="227.9" y="421.1" font-size="17.8" text-anchor="middle">2500</text>
<text x="275.6" y="421.1" font-size="17.8" text-anchor="middle">3000</text>
<text x="323.3" y="421.1" font-size="17.8" text-anchor="middle">3500</text>
<text x="371.0" y="421.1" font-size="17.8" text-anchor="middle">4000</text>
<text x="130.2" y="437.4" font-size="16.2">Wavenumber (cm<tspan font-size="9.5" dy="-6">-1</tspan><tspan dy="6">)</tspan></text>
<text x="1.3" y="227.6" font-size="18.4">(b)</text>
<text transform="translate(26.5,313.8) rotate(-90) scale(1.073,1)" font-size="16.2" text-anchor="middle">Transmittance (%)</text>
<text x="64.5" y="263.5" font-size="15">(ii)</text>
<text x="64.5" y="317.8" font-size="15">(i)</text>
<text x="221.8" y="260.4" font-size="13.5">T-GO</text>
<text x="229" y="321.2" font-size="13.5">GO</text>
<text x="94.4" y="369" font-size="9.7" text-anchor="middle">C-O</text>
<text x="123.6" y="366.1" font-size="9.7" text-anchor="middle">C=C</text>
<text x="146.4" y="325" font-size="9.7" text-anchor="middle">CO-NH</text>
<text x="155.3" y="383.3" font-size="9.7" text-anchor="middle">C=O</text>
<text x="214.6" y="372.7" font-size="9.7" text-anchor="middle">CO<tspan font-size="8.3">2</tspan></text>
<text x="269.8" y="365.4" font-size="9.7" text-anchor="middle">C-H</text>
<text x="298.3" y="321.0" font-size="9.7" text-anchor="middle">N-H</text>
<text x="318" y="391.0" font-size="11" text-anchor="middle">O-H</text>
</g>
</g>
</svg></body></html>
